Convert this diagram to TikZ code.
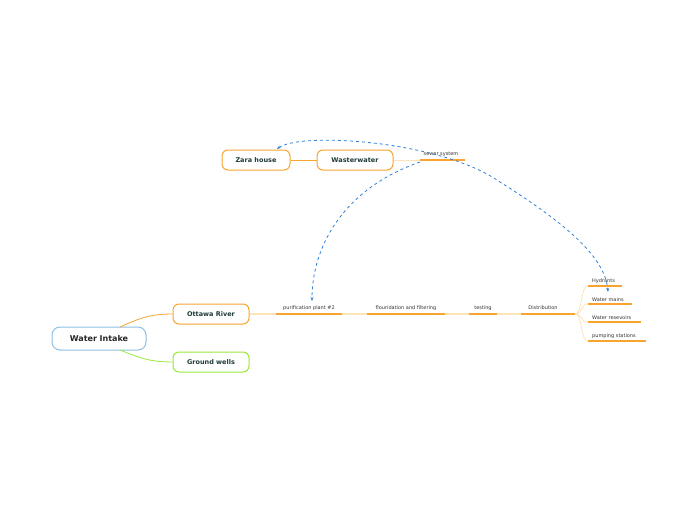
\documentclass[tikz,border=0pt]{standalone}
\usepackage{fontspec}
\setmainfont{DejaVu Sans}
\usetikzlibrary{arrows.meta}
\definecolor{orng}{HTML}{F7A530}
\definecolor{lorng}{HTML}{FDE3B8}
\definecolor{grn}{HTML}{99E83A}
\definecolor{blu}{HTML}{8CC0E6}
\definecolor{dblu}{HTML}{2F7FD8}
\definecolor{txt}{HTML}{1F3A3A}
\tikzset{
 topic/.style={draw=orng,line width=1pt,rounded corners=6pt,fill=white,minimum height=20pt,font=\bfseries\fontsize{6.5}{7}\selectfont,text=txt,inner xsep=2pt},
 lbl/.style={font=\fontsize{5}{6}\selectfont,text=black!80,inner sep=1pt},
 ul/.style={orng,line width=1.2pt},
 lk/.style={lorng,line width=1.2pt},
 dsh/.style={dblu,dashed,line width=0.8pt,-{Stealth[length=4pt]}}
}
\begin{document}
\begin{tikzpicture}[x=1pt,y=-1pt]
\useasboundingbox (0,0) rectangle (697,520);
% main
\node[topic,draw=blu,rounded corners=8pt,minimum width=94pt,minimum height=23pt,font=\bfseries\fontsize{8}{9}\selectfont,text=black!85] (wi) at (99,338.5) {Water Intake};
\node[topic,minimum width=76pt] (or) at (211,314) {Ottawa River};
\node[topic,draw=grn,minimum width=76pt] (gw) at (211,362) {Ground wells};
\node[topic,minimum width=68pt] (zh) at (256,160) {Zara house};
\node[topic,minimum width=76pt] (ww) at (355,160) {Wasterwater};
\draw[orng,line width=0.8pt] (120,327) .. controls (140,318) and (150,314) .. (or.west);
\draw[grn,line width=0.8pt] (120,350) .. controls (140,358) and (150,362) .. (gw.west);
\draw[orng,line width=0.8pt] (zh.east) -- (ww.west);
% sewer
\coordinate (s1) at (420,160); \coordinate (s2) at (465,160);
\node[lbl] (sw) at (441,154) {sewer system};
\draw[lorng,line width=1pt] (ww.east) -- (s1);
\draw[ul] (s1) -- (s2);
% chain
\coordinate (p1) at (276,314); \coordinate (p2) at (342,314);
\coordinate (f1) at (367,314); \coordinate (f2) at (445,314);
\coordinate (t1) at (469,314); \coordinate (t2) at (497,314);
\coordinate (d1) at (521,314); \coordinate (d2) at (575,314);
\node[lbl] (pp) at (309,308) {purification plant \#2};
\node[lbl] (fl) at (406,308) {flouridation and filtering};
\node[lbl] (te) at (483,308) {testing};
\node[lbl] (di) at (543,308) {Distribution};
\draw[lk] (or.east) -- (p1); \draw[ul] (p1) -- (p2);
\draw[lk] (p2) -- (f1); \draw[ul] (f1) -- (f2);
\draw[lk] (f2) -- (t1); \draw[ul] (t1) -- (t2);
\draw[lk] (t2) -- (d1); \draw[ul] (d1) -- (d2);
% leaves
\foreach \n/\t/\y/\e in {h/Hydrants/286/622, m/Water mains/304/632, r/Water resevoirs/322/641, s/pumping stations/341/646}{
  \coordinate (\n1) at (588,\y); \coordinate (\n2) at (\e,\y);
  \node[lbl,anchor=south west] (\n l) at (591,\y-1.5) {\t};
  \draw[ul] (\n1) -- (\n2);
  \draw[lorng,line width=0.8pt] (d2) .. controls (583,314) and (580,\y) .. (\n1);
}
% dashed
\draw[dsh,{Stealth[length=4pt]}-{Stealth[length=4pt]}] (277,149) .. controls (300,132) and (440,140) .. (500,182) .. controls (560,220) and (605,255) .. (608,292);
\draw[dsh] (420,162) .. controls (340,190) and (312,250) .. (312,301);
\end{tikzpicture}
\end{document}
